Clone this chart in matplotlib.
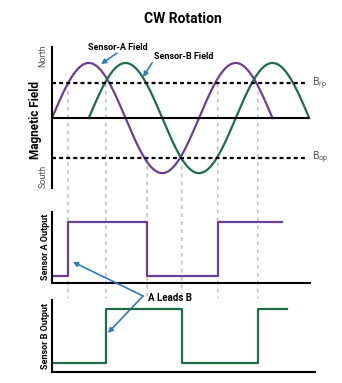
import numpy as np
import matplotlib.pyplot as plt
from matplotlib.patches import ConnectionPatch
from matplotlib.transforms import blended_transform_factory

plt.rcParams['font.family'] = ['Roboto', 'DejaVu Sans']

W, H = 342, 383

# magnetic field seen by each sensor (rotation angle in degrees)
field_start_a = 0
field_start_b = 90
field_span = 540
b_rp = 0.63
b_op = -0.73
zero_line_end = 627
threshold_end = 625

# sensor outputs, step edges (degrees) and levels after each edge
a_edges = [0, 39, 233, 406, 563]
a_levels = [0, 1, 0, 1, 1]
b_edges = [0, 132, 318, 504, 576]
b_levels = [0, 1, 0, 1, 1]

PURPLE = '#6b3f99'
GREEN = '#1d6d4b'
BLUE = '#2a7dc0'
GUIDE = '#b8b8b8'
LABEL = '#555555'

PX_PER_DEG = 147 / 360


def px_rect(left, top, right, bottom):
    return [left / W, 1 - bottom / H, (right - left) / W, (bottom - top) / H]


fig = plt.figure(figsize=(W / 100, H / 100), dpi=100)
fig.patch.set_facecolor('white')

x_max = (340 - 52) / PX_PER_DEG
ax_f = fig.add_axes(px_rect(52, 47, 340, 188))
ax_a = fig.add_axes(px_rect(52, 212, 340, 283))
ax_b = fig.add_axes(px_rect(52, 300, 340, 372))

for ax in (ax_f, ax_a, ax_b):
    ax.set_xlim(0, x_max)
    ax.set_facecolor('none')
    ax.set_xticks([])
    ax.set_yticks([])
    ax.spines['top'].set_visible(False)
    ax.spines['right'].set_visible(False)
    ax.spines['left'].set_linewidth(1.5)
    ax.spines['bottom'].set_linewidth(1.5)

# --- field panel
ax_f.set_ylim(-1.27, 1.29)
ax_f.spines['bottom'].set_position(('data', 0))
ax_f.spines['bottom'].set_bounds(0, zero_line_end)

theta_a = np.linspace(field_start_a, field_start_a + field_span, 500)
theta_b = np.linspace(field_start_b, field_start_b + field_span, 500)
ax_f.plot(theta_a, np.sin(np.radians(theta_a - field_start_a)), color=PURPLE, lw=1.6)
ax_f.plot(theta_b, np.sin(np.radians(theta_b - field_start_b)), color=GREEN, lw=1.6)
ax_f.hlines([b_rp, b_op], 0, threshold_end, colors='black', lw=1.6,
            linestyles=(0, (1.8, 1.4)))
ax_f.text(637, b_rp, r'B$_\mathregular{rp}$', color=LABEL, fontsize=7.5, va='center')
ax_f.text(637, b_op, r'B$_\mathregular{op}$', color=LABEL, fontsize=7.5, va='center')

ax_f.text(160, 1.29, 'Sensor-A Field', fontsize=6.5, fontweight='bold',
          ha='center', va='center')
ax_f.text(322, 1.11, 'Sensor-B Field', fontsize=6.5, fontweight='bold',
          ha='center', va='center')
arrow = dict(arrowstyle='-|>', color=BLUE, lw=1.2, mutation_scale=7,
             shrinkA=0, shrinkB=0)
ax_f.annotate('', xy=(120, 0.98), xytext=(159, 1.18), arrowprops=arrow,
              annotation_clip=False)
ax_f.annotate('', xy=(223, 0.745), xytext=(245, 1.0), arrowprops=arrow,
              annotation_clip=False)

# --- output panels
ax_a.set_ylim(-0.13, 1.185)
ax_a.spines['bottom'].set_bounds(0, 632)
ax_a.step(a_edges, a_levels, where='post', color=PURPLE, lw=1.6)

ax_b.set_ylim(-0.167, 1.167)
ax_b.spines['bottom'].set_bounds(0, 644)
ax_b.step(b_edges, b_levels, where='post', color=GREEN, lw=1.6)

ax_a.text(235, -0.407, 'A Leads B', fontsize=7, fontweight='bold',
          ha='left', va='center')
ax_a.annotate('', xy=(51, 0.26), xytext=(223, -0.37), arrowprops=arrow,
              annotation_clip=False)
ax_a.annotate('', xy=(137, 0.556), xycoords=ax_b.transData,
              xytext=(223, -0.37), textcoords='data', arrowprops=arrow,
              annotation_clip=False)

# --- grey guides from threshold crossings down to the outputs
guide_end = blended_transform_factory(ax_b.transData, ax_b.transAxes)
for edges, levels in ((a_edges, a_levels), (b_edges, b_levels)):
    for i in range(1, len(edges) - 1):
        start = b_rp if levels[i] > levels[i - 1] else b_op
        con = ConnectionPatch(xyA=(edges[i], start), coordsA=ax_f.transData,
                              xyB=(edges[i], 1.03), coordsB=guide_end,
                              color=GUIDE, lw=1.0, linestyle=(0, (2.2, 3.5)),
                              zorder=-1)
        fig.add_artist(con)

# --- labels
fig.text(183 / W, 1 - 19 / H, 'CW Rotation', fontsize=10, fontweight='bold',
         ha='center', va='center')
fig.text(35 / W, 1 - 120 / H, 'Magnetic Field', fontsize=8.5, fontweight='bold',
         rotation=90, ha='center', va='center')
fig.text(43 / W, 1 - 56 / H, 'North', fontsize=6.5, color=LABEL,
         rotation=90, ha='center', va='center')
fig.text(43 / W, 1 - 176 / H, 'South', fontsize=6.5, color=LABEL,
         rotation=90, ha='center', va='center')
fig.text(46 / W, 1 - 247 / H, 'Sensor A Output', fontsize=6.5, fontweight='bold',
         rotation=90, ha='center', va='center')
fig.text(46 / W, 1 - 336 / H, 'Sensor B Output', fontsize=6.5, fontweight='bold',
         rotation=90, ha='center', va='center')

fig.savefig('out.png', dpi=100, facecolor='white')
